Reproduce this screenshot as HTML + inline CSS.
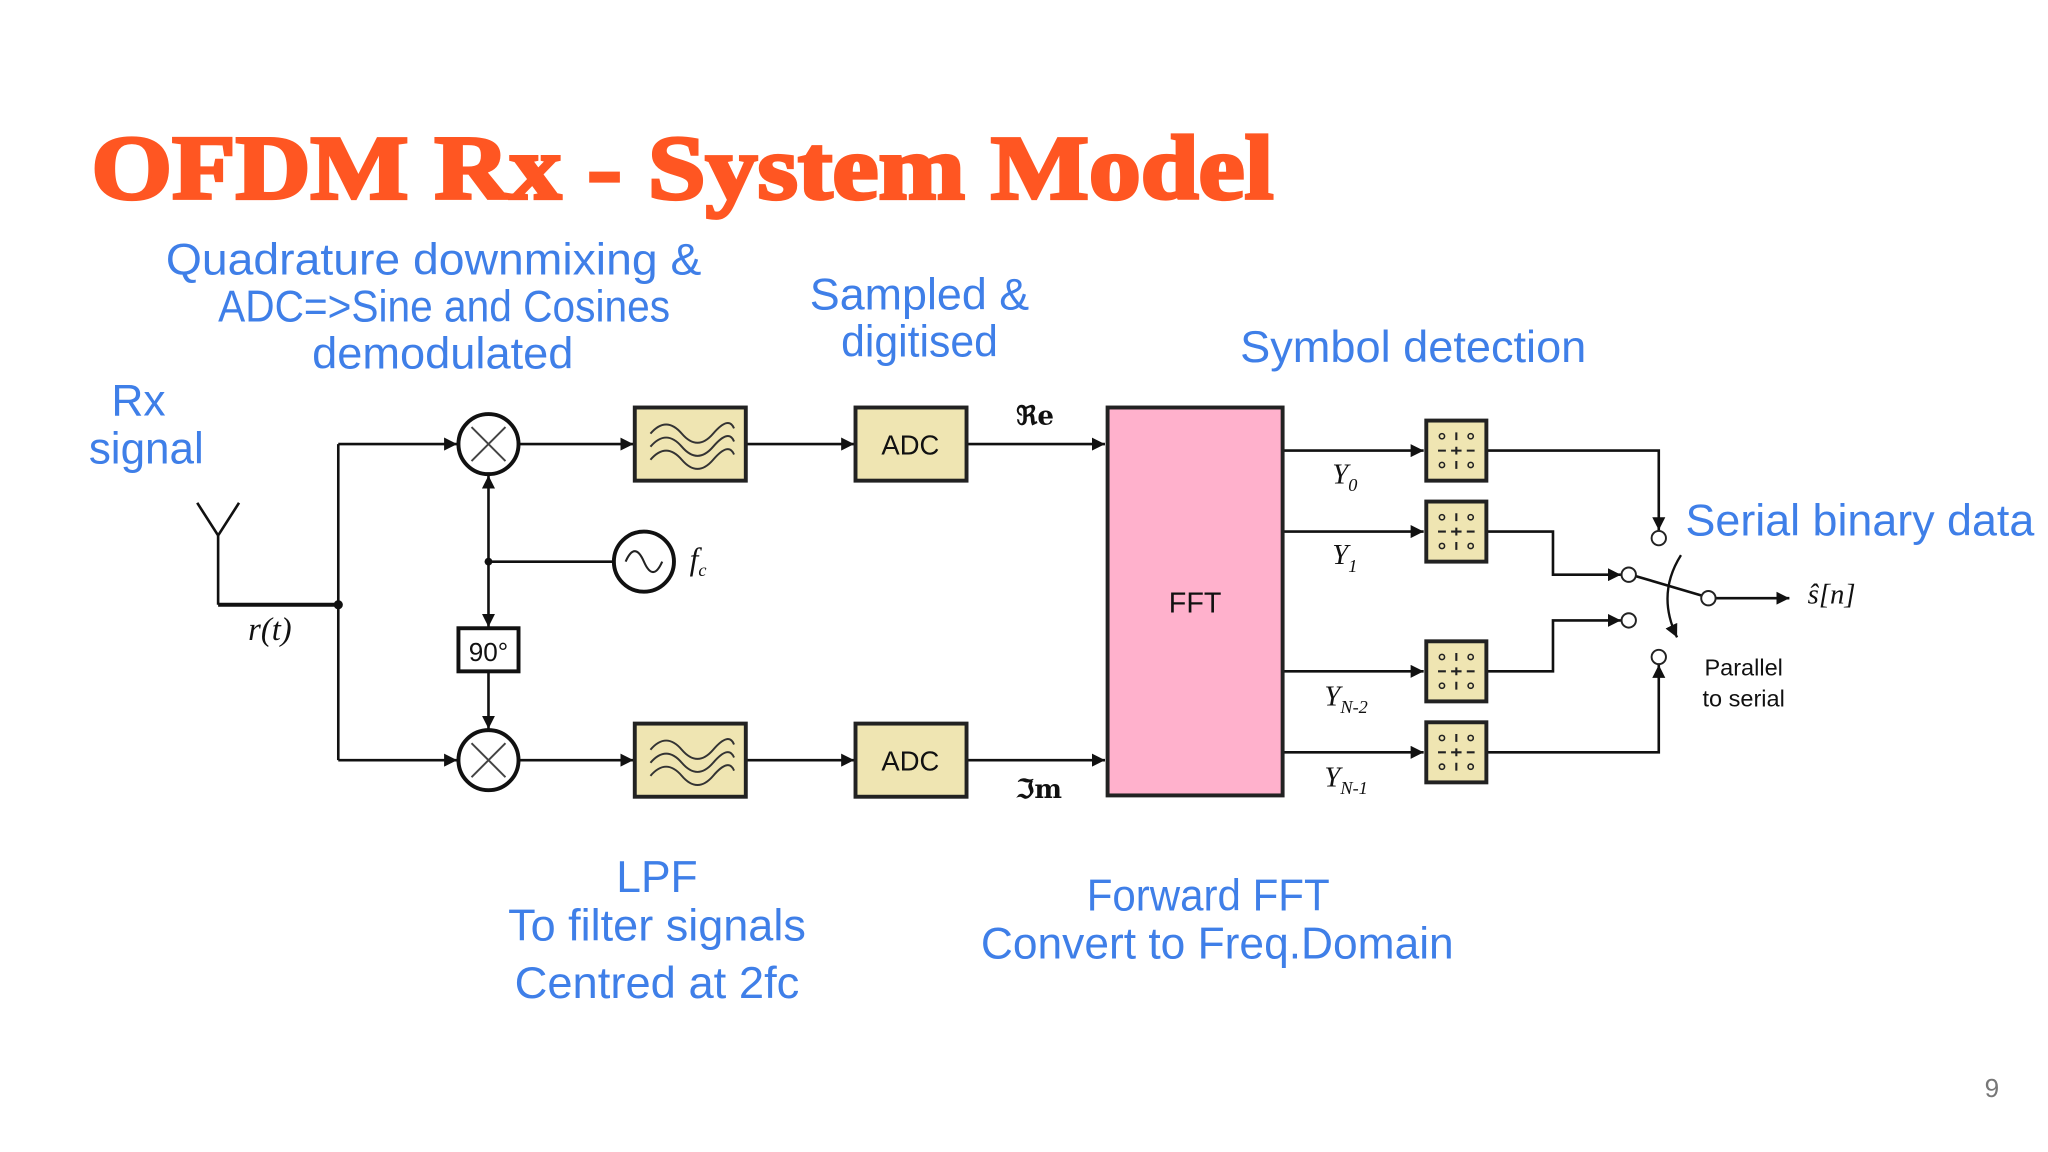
<!DOCTYPE html>
<html><head><meta charset="utf-8"><style>
html,body{margin:0;padding:0;background:#fff;}
svg{display:block;}
.b{font-family:"Liberation Sans",sans-serif;fill:#3f7fe8;font-size:34px;font-weight:300;}
.m{font-family:"Liberation Serif",serif;font-style:italic;fill:#111;}
.a{font-family:"Liberation Sans",sans-serif;fill:#111;}
</style></head><body>
<svg width="2048" height="1152" viewBox="0 0 1568 882" xmlns="http://www.w3.org/2000/svg">
<defs>
<marker id="ar" viewBox="0 0 10 10" refX="10" refY="5" markerWidth="10" markerHeight="10" markerUnits="userSpaceOnUse" orient="auto"><path d="M0,0 L10,5 L0,10 z" fill="#111"/></marker>
<g id="lpf"><rect x="0" y="0" width="85" height="56" fill="#efe5b2" stroke="#222" stroke-width="3"/>
<path d="M12,20 q12,-14 24,0 t24,0 t16,-4 M12,30 q12,-14 24,0 t24,0 t16,-4 M12,40 q12,-14 24,0 t24,0 t16,-4" fill="none" stroke="#333" stroke-width="1.5"/></g>
<g id="adc"><rect x="0" y="0" width="85" height="56" fill="#efe5b2" stroke="#222" stroke-width="3"/><text x="42" y="36" text-anchor="middle" class="a" font-size="21">ADC</text></g>
<g id="mx"><circle cx="0" cy="0" r="23" fill="#fff" stroke="#111" stroke-width="3"/><path d="M-13,-13 L13,13 M13,-13 L-13,13" stroke="#444" stroke-width="1.5"/></g>
<g id="det"><rect x="0" y="0" width="46" height="46" fill="#efe5b2" stroke="#222" stroke-width="3"/>
<g fill="none" stroke="#222" stroke-width="1.2"><circle cx="12" cy="12" r="2"/><circle cx="34" cy="12" r="2"/><circle cx="12" cy="34" r="2"/><circle cx="34" cy="34" r="2"/></g>
<path d="M23,9 v6 M23,31 v6 M9,23 h6 M31,23 h6 M19,23 h8 M23,20 v6" stroke="#222" stroke-width="1.6"/></g>
</defs>
<rect width="1568" height="882" fill="#fff"/>
<text x="70" y="152" font-family="'Liberation Serif',serif" font-weight="bold" font-size="70" fill="#ff5622" stroke="#ff5622" stroke-width="2.5" textLength="905" lengthAdjust="spacingAndGlyphs">OFDM Rx - System Model</text>
<g class="b" text-anchor="middle">
<text x="332" y="210" textLength="410" lengthAdjust="spacingAndGlyphs">Quadrature downmixing &amp;</text>
<text x="340" y="246" textLength="346" lengthAdjust="spacingAndGlyphs">ADC=&gt;Sine and Cosines</text>
<text x="339" y="282" textLength="200" lengthAdjust="spacingAndGlyphs">demodulated</text>
<text x="704" y="237" textLength="168" lengthAdjust="spacingAndGlyphs">Sampled &amp;</text>
<text x="704" y="273" textLength="120" lengthAdjust="spacingAndGlyphs">digitised</text>
<text x="1082" y="277" textLength="265" lengthAdjust="spacingAndGlyphs">Symbol detection</text>
<text x="106" y="318">Rx</text>
<text x="112" y="355" textLength="88" lengthAdjust="spacingAndGlyphs">signal</text>
<text x="1424" y="410" textLength="267" lengthAdjust="spacingAndGlyphs">Serial binary data</text>
<text x="503" y="683">LPF</text>
<text x="503" y="720" textLength="228" lengthAdjust="spacingAndGlyphs">To filter signals</text>
<text x="503" y="764" textLength="218" lengthAdjust="spacingAndGlyphs">Centred at 2fc</text>
<text x="925" y="697" textLength="186" lengthAdjust="spacingAndGlyphs">Forward FFT</text>
<text x="932" y="734" textLength="362" lengthAdjust="spacingAndGlyphs">Convert to Freq.Domain</text>
</g>
<text x="1525" y="840" text-anchor="middle" font-family="'Liberation Sans',sans-serif" font-size="20" fill="#777">9</text>

<g stroke="#111" stroke-width="2" fill="none">
<path d="M151,385 L167,410 L183,385 M167,410 V463"/>
<path d="M167,463 H259" stroke-width="3"/>
<path d="M259,340 V582"/>
<path d="M259,340 H350" marker-end="url(#ar)"/>
<path d="M259,582 H350" marker-end="url(#ar)"/>
<path d="M397,340 H485" marker-end="url(#ar)"/>
<path d="M397,582 H485" marker-end="url(#ar)"/>
<path d="M571,340 H654" marker-end="url(#ar)"/>
<path d="M571,582 H654" marker-end="url(#ar)"/>
<path d="M740,340 H846" marker-end="url(#ar)"/>
<path d="M740,582 H846" marker-end="url(#ar)"/>
<path d="M374,430 V364" marker-end="url(#ar)"/>
<path d="M374,430 V480" marker-end="url(#ar)"/>
<path d="M374,430 H470"/>
<path d="M374,515 V558" marker-end="url(#ar)"/>
<path d="M983,345 H1090" marker-end="url(#ar)"/>
<path d="M983,407 H1090" marker-end="url(#ar)"/>
<path d="M983,514 H1090" marker-end="url(#ar)"/>
<path d="M983,576 H1090" marker-end="url(#ar)"/>
<path d="M1139,345 H1270 V406" marker-end="url(#ar)"/>
<path d="M1139,407 H1189 V440 H1241" marker-end="url(#ar)"/>
<path d="M1139,514 H1189 V475 H1241" marker-end="url(#ar)"/>
<path d="M1139,576 H1270 V509" marker-end="url(#ar)"/>
<path d="M1252,441 L1303,456"/>
<path d="M1313,458 H1370" marker-end="url(#ar)"/>
<path d="M1287,425 Q1268,455 1284,488" stroke-width="1.8" marker-end="url(#ar)"/>
</g>
<circle cx="259" cy="463" r="3.5" fill="#111"/>
<circle cx="374" cy="430" r="3" fill="#111"/>
<g stroke="#222" stroke-width="1.5" fill="#fff">
<circle cx="1270" cy="412" r="5.5"/><circle cx="1247" cy="440" r="5.5"/><circle cx="1247" cy="475" r="5.5"/><circle cx="1270" cy="503" r="5.5"/><circle cx="1308" cy="458" r="5.5"/>
</g>
<use href="#mx" x="374" y="340"/><use href="#mx" x="374" y="582"/>
<use href="#lpf" x="486" y="312"/><use href="#lpf" x="486" y="554"/>
<use href="#adc" x="655" y="312"/><use href="#adc" x="655" y="554"/>
<circle cx="493" cy="430" r="23" fill="#fff" stroke="#111" stroke-width="3"/>
<path d="M479,430 q7,-16 14,0 t14,0" fill="none" stroke="#222" stroke-width="1.6"/>
<text x="528" y="436" class="m" font-size="24">f<tspan font-size="14" dy="5">c</tspan></text>
<rect x="351" y="481" width="46" height="33" fill="#fff" stroke="#111" stroke-width="3"/>
<text x="374" y="506" text-anchor="middle" class="a" font-size="20">90°</text>
<text x="190" y="490" class="m" font-size="25">r(t)</text>
<text x="778" y="325" font-family="'DejaVu Serif',serif" font-weight="bold" font-size="20" fill="#111">ℜe</text>
<text x="778" y="611" font-family="'DejaVu Serif',serif" font-weight="bold" font-size="20" fill="#111">ℑm</text>
<rect x="848" y="312" width="134" height="297" fill="#ffb1cc" stroke="#222" stroke-width="3"/>
<text x="915" y="469" text-anchor="middle" class="a" font-size="22">FFT</text>
<use href="#det" x="1092" y="322"/><use href="#det" x="1092" y="384"/><use href="#det" x="1092" y="491"/><use href="#det" x="1092" y="553"/>
<g class="m" font-size="22">
<text x="1020" y="370">Y<tspan font-size="14" dy="6">0</tspan></text>
<text x="1020" y="432">Y<tspan font-size="14" dy="6">1</tspan></text>
<text x="1014" y="540">Y<tspan font-size="14" dy="6">N-2</tspan></text>
<text x="1014" y="602">Y<tspan font-size="14" dy="6">N-1</tspan></text>
<text x="1384" y="462">ŝ[n]</text>
</g>
<text x="1335" y="517" text-anchor="middle" class="a" font-size="18">Parallel</text>
<text x="1335" y="541" text-anchor="middle" class="a" font-size="18">to serial</text>
</svg>
</body></html>
